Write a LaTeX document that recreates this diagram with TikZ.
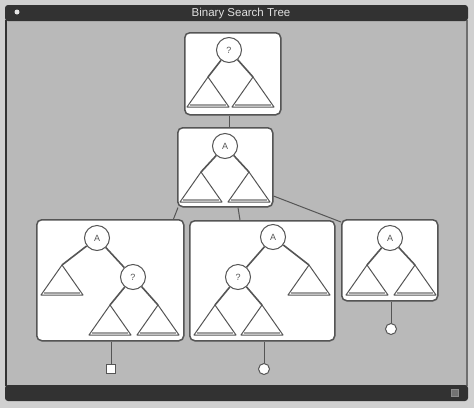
\documentclass[tikz,border=0pt]{standalone}
\usepackage{fontspec}
\setmainfont{Liberation Sans}
\usetikzlibrary{calc}
\definecolor{winbg}{HTML}{D0D0D0}
\definecolor{bodygray}{HTML}{B9B9B9}
\definecolor{barcol}{HTML}{323232}
\definecolor{edgecol}{HTML}{555555}
\definecolor{basecol}{HTML}{A0A0A0}
\tikzset{
  box/.style={draw=edgecol, line width=1.5pt, fill=white, rounded corners=5pt, anchor=north west, inner sep=0pt},
  boxshadow/.style={fill=black!35, rounded corners=5pt},
  keynode/.style={circle, draw=edgecol, line width=1pt, fill=white, minimum size=25pt, inner sep=0pt, font=\fontsize{9}{9}\selectfont, text=edgecol},
  treeedge/.style={draw=edgecol, line width=1.6pt},
  link/.style={draw=edgecol, line width=1pt},
  subtree/.style={draw=edgecol, line width=1pt, fill=white, line join=round},
  basebar/.style={draw=basecol, line width=2.4pt},
  termsq/.style={rectangle, draw=edgecol, line width=1pt, fill=white, minimum size=9pt, inner sep=0pt},
  termci/.style={circle, draw=edgecol, line width=1pt, fill=white, minimum size=11pt, inner sep=0pt},
}
\newcommand\subtri[2]{%
  \coordinate (#1) at #2;
  \draw[subtree] (#1) -- ++(-21,30) -- ++(42,0) -- cycle;
  \draw[basebar] ($(#1)+(-18,27.8)$) -- ++(36,0);}
\newcommand\boxat[5]{% name, x, y, w, h
  \fill[boxshadow] (#2+1.5,#3+1.5) rectangle ++(#4,#5);
  \node[box, minimum width=#4pt, minimum height=#5pt] (#1) at (#2,#3) {};}
\begin{document}
\begin{tikzpicture}[x=1pt, y=-1pt]
\useasboundingbox (0,0) rectangle (474,408);
% window
\fill[winbg] (0,0) rectangle (474,408);
\fill[bodygray] (6,20) rectangle (467,386);
\draw[barcol, line width=1.6pt] (6,20) -- (6,386);
\draw[barcol!70, line width=1.2pt] (467,20) -- (467,386);
\fill[barcol, rounded corners=3pt] (5,5) rectangle (468,21);
\fill[barcol, rounded corners=3pt] (5,385) rectangle (468,401);
\node[font=\fontsize{11.5}{11.5}\selectfont, text=black!12] (title) at (241,13.5) {Binary Search Tree};
\node[circle, fill=black!10, minimum size=5pt, inner sep=0pt] (closeicon) at (17,12) {};
\node[rectangle, draw=black!45, fill=black!55, minimum size=7pt, inner sep=0pt] (resizeicon) at (455,393) {};

% boxes
\boxat{b1}{184}{32}{96}{82}
\boxat{b2}{177}{127}{95}{79}
\boxat{b3}{36}{219}{147}{121}
\boxat{b4}{189}{220}{145}{120}
\boxat{b5}{341}{219}{96}{81}

% links between boxes
\draw[link] ($(b1.south west)+(45,0)$) -- ($(b2.north west)+(52,0)$);
\draw[link] ($(b2.south west)+(1,0)$) -- ($(b3.north east)+(-11,0)$);
\draw[link] ($(b2.south west)+(61,0)$) -- ($(b4.north west)+(51,0)$);
\draw[link] ($(b2.north east)+(0,69)$) -- ($(b5.north west)+(0,3)$);

% box 1
\subtri{t1a}{(208,77)}
\subtri{t1b}{(253,77)}
\node[keynode] (k1) at (229,50) {?};
\draw[treeedge] (k1) -- (t1a);
\draw[treeedge] (k1) -- (t1b);

% box 2
\subtri{t2a}{(201,172)}
\subtri{t2b}{(249,172)}
\node[keynode] (k2) at (225,146) {A};
\draw[treeedge] (k2) -- (t2a);
\draw[treeedge] (k2) -- (t2b);

% box 3
\subtri{t3a}{(62,265)}
\subtri{t3b}{(110,305)}
\subtri{t3c}{(158,305)}
\node[keynode] (k3a) at (97,238) {A};
\node[keynode] (k3b) at (133,277) {?};
\draw[treeedge] (k3a) -- (t3a);
\draw[treeedge] (k3a) -- (k3b);
\draw[treeedge] (k3b) -- (t3b);
\draw[treeedge] (k3b) -- (t3c);

% box 4
\subtri{t4a}{(309,265)}
\subtri{t4b}{(215,305)}
\subtri{t4c}{(262,305)}
\node[keynode] (k4a) at (273,237) {A};
\node[keynode] (k4b) at (238,277) {?};
\draw[treeedge] (k4a) -- (t4a);
\draw[treeedge] (k4a) -- (k4b);
\draw[treeedge] (k4b) -- (t4b);
\draw[treeedge] (k4b) -- (t4c);

% box 5
\subtri{t5a}{(367,265)}
\subtri{t5b}{(415,265)}
\node[keynode] (k5) at (390,238) {A};
\draw[treeedge] (k5) -- (t5a);
\draw[treeedge] (k5) -- (t5b);

% terminals
\node[termsq] (s3) at (111,369) {};
\node[termci] (s4) at (264,369) {};
\node[termci] (s5) at (391,329) {};
\draw[link] (b3.south -| s3) -- (s3);
\draw[link] (b4.south -| s4) -- (s4);
\draw[link] (b5.south -| s5) -- (s5);
\end{tikzpicture}
\end{document}
